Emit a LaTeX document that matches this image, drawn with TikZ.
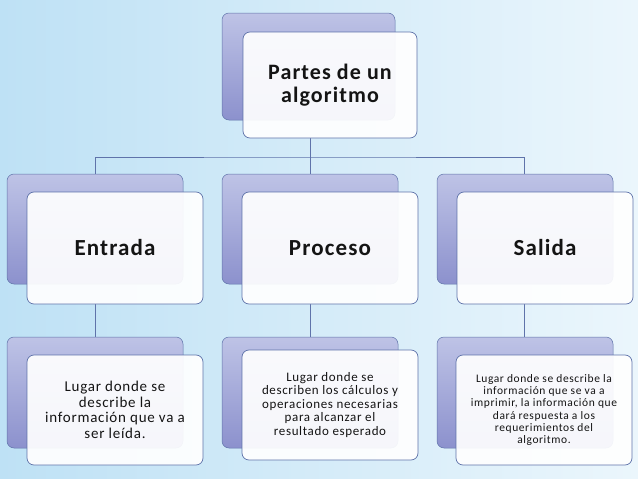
\documentclass[tikz,border=0pt]{standalone}
\usepackage{fontspec}
\setmainfont{Carlito}[LetterSpace=5]
\definecolor{bgl}{RGB}{190,225,245}
\definecolor{bgr}{RGB}{235,246,252}
\definecolor{bktop}{RGB}{190,195,230}
\definecolor{bkbot}{RGB}{140,145,205}
\definecolor{bord}{RGB}{95,115,170}
\definecolor{txt}{RGB}{20,20,20}
\begin{document}
\begin{tikzpicture}[x=1pt,y=-1pt,
  backbox/.style={draw=bord, rounded corners=7pt, top color=bktop, bottom color=bkbot, line width=0.5pt},
  frontbox/.style={draw=bord, rounded corners=7pt, fill=white, fill opacity=0.92, line width=0.7pt, text opacity=1, align=center, text=txt},
  conn/.style={draw=bord, line width=0.7pt}]
\useasboundingbox[left color=bgl, right color=bgr] (0,0) rectangle (638,479);
% connectors
\coordinate (hub) at (310,157);
\draw[conn] (310,138) -- (hub);
\draw[conn] (95,175) |- (hub) -| (524,175);
\draw[conn] (310,157) -- (310,175);
\foreach \x in {95,310,524}{\draw[conn] (\x,304) -- (\x,338);}
% top
\draw[backbox] (222,13) rectangle (395,120);
\node[frontbox, minimum width=174pt, minimum height=106pt, font=\bfseries\fontsize{22}{23}\selectfont] (top) at (330,85) {Partes de un\\algoritmo};
% row 2
\foreach \bx/\lbl/\nm in {7/Entrada/ent, 222/Proceso/pro, 437/Salida/sal}{
  \draw[backbox] (\bx,174) rectangle (\bx+176,284);
  \node[frontbox, minimum width=176pt, minimum height=112pt, font=\bfseries\fontsize{23}{24}\selectfont] (\nm) at (\bx+108,248) {\lbl};
}
% row 3
\foreach \bx in {7,222,437}{
  \draw[backbox] (\bx,337) rectangle (\bx+176,448);
}
\node[frontbox, minimum width=176pt, minimum height=110pt, font=\fontsize{15}{15.5}\selectfont] (d1) at (115,410) {Lugar donde se\\describe la\\información que va a\\ser leída.};
\node[frontbox, minimum width=176pt, minimum height=110pt, font=\fontsize{13}{13.5}\selectfont] (d2) at (330,405) {Lugar donde se\\describen los cálculos y\\operaciones necesarias\\para alcanzar el\\resultado esperado};
\node[frontbox, minimum width=176pt, minimum height=110pt, font=\fontsize{11.5}{12.2}\selectfont] (d3) at (544,410) {Lugar donde se describe la\\información que se va a\\imprimir, la información que\\dará respuesta a los\\requerimientos del\\algoritmo.};
\end{tikzpicture}
\end{document}
